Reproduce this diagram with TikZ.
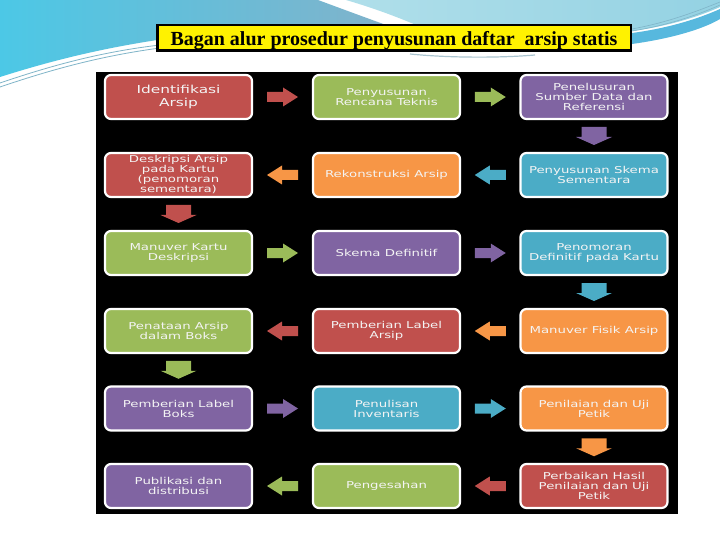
\documentclass[tikz,border=0pt]{standalone}
\usepackage{fontspec}
\usetikzlibrary{calc}
\newfontfamily\boxfont[FakeStretch=1.4]{DejaVu Sans}
\newfontfamily\titlefont{Liberation Serif}
\definecolor{cRed}{HTML}{C0504D}
\definecolor{cGreen}{HTML}{9BBB59}
\definecolor{cPurple}{HTML}{8064A2}
\definecolor{cAqua}{HTML}{4BACC6}
\definecolor{cOrange}{HTML}{F79646}
\definecolor{bgcyan}{HTML}{4CC8E6}
\definecolor{bgsteel}{HTML}{82B2CA}
\definecolor{bglightA}{HTML}{B0DFEA}
\definecolor{bglightB}{HTML}{94D2E3}
\definecolor{bgband}{HTML}{57B8DE}
\definecolor{bgline}{HTML}{7FB4C8}
\definecolor{bgshadow}{HTML}{A9C4CF}
\definecolor{txtwhite}{HTML}{F4F4F4}
\newcommand\blkright[2]{\fill[#2] (#1) +(-15.5,-5) -- +(0.5,-5) -- +(0.5,-9.5) -- +(15.5,0) -- +(0.5,9.5) -- +(0.5,5) -- +(-15.5,5) -- cycle;}
\newcommand\blkleft[2]{\fill[#2] (#1) +(15.5,-5) -- +(-0.5,-5) -- +(-0.5,-9.5) -- +(-15.5,0) -- +(-0.5,9.5) -- +(-0.5,5) -- +(15.5,5) -- cycle;}
\newcommand\blkdown[2]{\fill[#2] (#1) +(-12.5,-9) -- +(12.5,-9) -- +(12.5,1) -- +(18,1) -- +(0,9) -- +(-18,1) -- +(-12.5,1) -- cycle;}
\tikzset{
  box/.style={draw=white, line width=2.2pt, rounded corners=6pt,
    minimum width=147pt, minimum height=44pt, inner sep=1pt, align=center,
    text=txtwhite, font=\boxfont\fontsize{9.5}{10}\selectfont},
  bigtext/.style={font=\boxfont\fontsize{11}{13}\selectfont},
  titlebox/.style={draw=black, line width=2.5pt, fill=yellow,
    minimum width=473.5pt, minimum height=25.5pt, inner sep=0pt},
  titletext/.style={font=\titlefont\bfseries\fontsize{20}{20}\selectfont, inner sep=0pt}
}
\begin{document}
\begin{tikzpicture}[x=1pt,y=-1pt]
\useasboundingbox (0,0) rectangle (720,540);
\fill[white] (0,0) rectangle (720,540);
% background decoration
\shade[left color=bgcyan, right color=bgsteel] (0,0) -- (318,0)
  .. controls (345,10) and (372,20) .. (400,30)
  .. controls (320,28) and (260,28) .. (240,30)
  .. controls (130,40) and (60,58) .. (0,77) -- cycle;
\shade[left color=bglightA, right color=bglightB] (346,0) -- (720,0) -- (720,7)
  .. controls (700,16) and (670,26) .. (632,31) -- (430,31)
  .. controls (405,20) and (380,10) .. (346,0) -- cycle;
\fill[bgband] (720,9) .. controls (700,18) and (670,28) .. (632,33)
  -- (632,44) .. controls (675,38) and (705,28) .. (720,19) -- cycle;
\draw[bgline, line width=0.6pt] (632,29) .. controls (670,22) and (700,10) .. (720,2);
\draw[bgline, line width=0.6pt] (632,31) .. controls (670,25) and (700,14) .. (720,5);
\draw[bgline, line width=0.8pt] (0,83) .. controls (50,66) and (100,52) .. (160,45);
\draw[bgline, line width=0.8pt] (0,87) .. controls (50,70) and (100,56) .. (160,48);
\draw[bgshadow, line width=1.2pt] (410,54) .. controls (450,58) and (500,58) .. (535,55);
% title
\node[titlebox] (title) at (394,38) {};
\node[titletext] (titletxt) at (394,41) {Bagan alur prosedur penyusunan daftar\ \ arsip statis};
% black panel
\fill[black] (96,72) rectangle (678,514);
% boxes
\node[box, fill=cRed, bigtext] (b11) at (178.5,97) {Identifikasi\\Arsip};
\node[box, fill=cGreen] (b12) at (386.5,97) {Penyusunan\\Rencana Teknis};
\node[box, fill=cPurple] (b13) at (594,97) {Penelusuran\\Sumber Data dan\\Referensi};
\node[box, fill=cRed] (b21) at (178.5,175) {Deskripsi Arsip\\pada Kartu\\(penomoran\\sementara)};
\node[box, fill=cOrange] (b22) at (386.5,175) {Rekonstruksi Arsip};
\node[box, fill=cAqua] (b23) at (594,175) {Penyusunan Skema\\Sementara};
\node[box, fill=cGreen] (b31) at (178.5,253) {Manuver Kartu\\Deskripsi};
\node[box, fill=cPurple] (b32) at (386.5,253) {Skema Definitif};
\node[box, fill=cAqua] (b33) at (594,253) {Penomoran\\Definitif pada Kartu};
\node[box, fill=cGreen] (b41) at (178.5,331) {Penataan Arsip\\dalam Boks};
\node[box, fill=cRed] (b42) at (386.5,331) {Pemberian Label\\Arsip};
\node[box, fill=cOrange] (b43) at (594,331) {Manuver Fisik Arsip};
\node[box, fill=cPurple] (b51) at (178.5,408.5) {Pemberian Label\\Boks};
\node[box, fill=cAqua] (b52) at (386.5,408.5) {Penulisan\\Inventaris};
\node[box, fill=cOrange] (b53) at (594,408.5) {Penilaian dan Uji\\Petik};
\node[box, fill=cPurple] (b61) at (178.5,486) {Publikasi dan\\distribusi};
\node[box, fill=cGreen] (b62) at (386.5,486) {Pengesahan};
\node[box, fill=cRed] (b63) at (594,486) {Perbaikan Hasil\\Penilaian dan Uji\\Petik};
% arrow positions
\coordinate (h11) at ($(b11.east)!0.5!(b12.west)$);
\coordinate (h12) at ($(b12.east)!0.5!(b13.west)$);
\coordinate (v13) at ($(b13.south)!0.5!(b23.north)$);
\coordinate (h22) at ($(b22.east)!0.5!(b23.west)$);
\coordinate (h21) at ($(b21.east)!0.5!(b22.west)$);
\coordinate (v21) at ($(b21.south)!0.5!(b31.north)$);
\coordinate (h31) at ($(b31.east)!0.5!(b32.west)$);
\coordinate (h32) at ($(b32.east)!0.5!(b33.west)$);
\coordinate (v33) at ($(b33.south)!0.5!(b43.north)$);
\coordinate (h42) at ($(b42.east)!0.5!(b43.west)$);
\coordinate (h41) at ($(b41.east)!0.5!(b42.west)$);
\coordinate (v41) at ($(b41.south)!0.5!(b51.north)$);
\coordinate (h51) at ($(b51.east)!0.5!(b52.west)$);
\coordinate (h52) at ($(b52.east)!0.5!(b53.west)$);
\coordinate (v53) at ($(b53.south)!0.5!(b63.north)$);
\coordinate (h62) at ($(b62.east)!0.5!(b63.west)$);
\coordinate (h61) at ($(b61.east)!0.5!(b62.west)$);
% block arrows
\blkright{h11}{cRed}
\blkright{h12}{cGreen}
\blkdown{v13}{cPurple}
\blkleft{h22}{cAqua}
\blkleft{h21}{cOrange}
\blkdown{v21}{cRed}
\blkright{h31}{cGreen}
\blkright{h32}{cPurple}
\blkdown{v33}{cAqua}
\blkleft{h42}{cOrange}
\blkleft{h41}{cRed}
\blkdown{v41}{cGreen}
\blkright{h51}{cPurple}
\blkright{h52}{cAqua}
\blkdown{v53}{cOrange}
\blkleft{h62}{cRed}
\blkleft{h61}{cGreen}
\end{tikzpicture}
\end{document}
